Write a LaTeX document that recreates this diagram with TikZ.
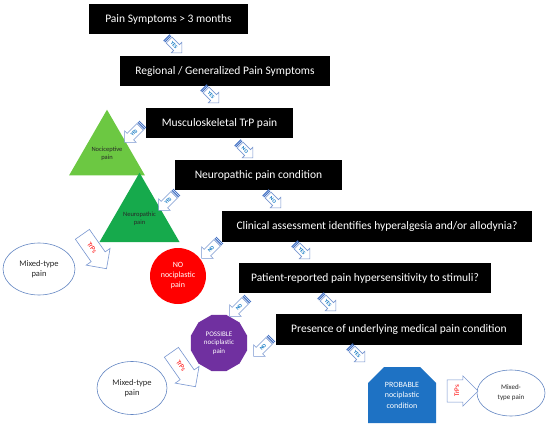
\documentclass[tikz,border=0pt]{standalone}
\usepackage{fontspec}
\setmainfont{Carlito}
\usetikzlibrary{shapes.geometric,shapes.arrows,shapes.misc,calc}

\definecolor{lgreen}{RGB}{108,200,66}
\definecolor{dgreen}{RGB}{22,170,76}
\definecolor{npurple}{RGB}{112,48,160}
\definecolor{pblue}{RGB}{30,114,196}
\definecolor{arrline}{RGB}{120,150,208}
\definecolor{arrstripe}{RGB}{68,114,196}
\definecolor{arrtext}{RGB}{0,112,192}
\definecolor{ellline}{RGB}{100,135,195}
\definecolor{darktext}{RGB}{40,40,40}

\tikzset{
  question/.style={fill=black, text=white, minimum height=30pt, inner sep=0pt,
    font=\fontsize{11.5}{13}\selectfont},
  stripes/.style={
    append after command={
      ($(\tikzlastnode.before tail)!1.3pt!90:(\tikzlastnode.after tail)$) edge[draw=arrstripe, line width=1pt]
      ($(\tikzlastnode.after tail)!1.3pt!-90:(\tikzlastnode.before tail)$)
      ($(\tikzlastnode.before tail)!3pt!90:(\tikzlastnode.after tail)$) edge[draw=arrstripe, line width=1pt]
      ($(\tikzlastnode.after tail)!3pt!-90:(\tikzlastnode.before tail)$)
    }},
  answer/.style={single arrow, draw=arrline, fill=white, text=arrtext, line width=0.6pt,
    font=\fontsize{5}{5}\selectfont\bfseries, inner xsep=0.8pt, inner ysep=2.2pt,
    single arrow head extend=3.3pt, minimum height=18pt, stripes},
  answerright/.style={answer, rotate=-45},
  answerleft/.style={answer, shape border rotate=180, rotate=45, minimum height=22pt,
    inner ysep=2.6pt, single arrow head extend=3.6pt},
  trps/.style={single arrow, draw=arrline, fill=white, text=red, line width=0.6pt,
    font=\fontsize{7}{7}\selectfont, inner xsep=1pt, inner ysep=6pt,
    single arrow head extend=6pt, minimum height=42pt},
  tri/.style={regular polygon, regular polygon sides=3, inner sep=0pt, minimum size=74pt,
    text=darktext, align=center, font=\fontsize{6.5}{8}\selectfont},
  mixed/.style={ellipse, draw=ellline, line width=0.6pt, fill=white, inner sep=0pt,
    text=darktext, align=center, font=\fontsize{8.5}{10}\selectfont},
  result/.style={text=white, align=center, inner sep=0pt}
}

\begin{document}
\begin{tikzpicture}[x=1pt, y=-1pt]
    \useasboundingbox (0,0) rectangle (550,428);

    % Question boxes
    \node[question, minimum width=159pt] (q1) at (168.5,19) {Pain Symptoms > 3 months};
    \node[question, minimum width=210pt] (q2) at (225,71) {Regional / Generalized Pain Symptoms};
    \node[question, minimum width=147pt] (q3) at (219.5,123) {Musculoskeletal TrP pain};
    \node[question, minimum width=167pt] (q4) at (258.5,175) {Neuropathic pain condition};
    \node[question, minimum width=310pt, minimum height=31pt] (q5) at (377,226.5) {Clinical assessment identifies hyperalgesia and/or allodynia?};
    \node[question, minimum width=252pt] (q6) at (365,278) {Patient-reported pain hypersensitivity to stimuli?};
    \node[question, minimum width=246pt, minimum height=31pt] (q7) at (399,329.5) {Presence of underlying medical pain condition};

    % Outcomes
    \node[tri, fill=lgreen] (nocic) at (107,153.5) {Nociceptive\\pain};
    \node[tri, fill=dgreen, minimum size=75pt] (neuro) at (139.5,219) {Neuropathic\\pain};
    \node[result, circle, fill=red, minimum size=56pt, font=\fontsize{8}{10}\selectfont] (nonp) at (178,276) {NO\\nociplastic\\pain};
    \node[result, regular polygon, regular polygon sides=12, fill=npurple, minimum size=58pt,
      font=\fontsize{7}{8.5}\selectfont] (possible) at (219,343) {POSSIBLE\\nociplastic\\pain};
    \node[result, chamfered rectangle, chamfered rectangle corners={north west,north east},
      chamfered rectangle xsep=8pt, chamfered rectangle ysep=8pt, fill=pblue,
      minimum width=68pt, minimum height=56pt, font=\fontsize{8}{10.5}\selectfont] (probable) at (402,395) {PROBABLE\\nociplastic\\condition};

    % Mixed-type pain
    \node[mixed, minimum width=72pt, minimum height=52pt] (mix1) at (39,269) {Mixed-type\\pain};
    \node[mixed, minimum width=70pt, minimum height=53pt] (mix2) at (132,388) {Mixed-type\\pain};
    \node[mixed, minimum width=68pt, minimum height=46pt, font=\fontsize{7}{10}\selectfont] (mix3) at (511,393) {Mixed-\\type pain};

    % YES / NO arrows
    \node[answerright] (a1) at (174,45) {YES};
    \node[answerright] (a2) at (211,95) {YES};
    \node[answerleft] (a3) at (134,133) {YES};
    \node[answerright] (a4) at (245,150) {NO};
    \node[answerleft] (a5) at (168,201) {YES};
    \node[answerright] (a6) at (273,200) {NO};
    \node[answerleft] (a7) at (211,249) {NO};
    \node[answerright] (a8) at (302,251) {YES};
    \node[answerleft] (a9) at (239,307) {NO};
    \node[answerright] (a10) at (328,303) {YES};
    \node[answerleft] (a11) at (263,347) {NO};
    \node[answerright] (a12) at (357,354) {YES};

    % TrPs arrows
    \node[trps, rotate=-55] (t1) at (92,248) {TrPs};
    \node[trps, rotate=-55] (t2) at (181,366) {TrPs};
    \node[trps, minimum height=31pt, inner ysep=5pt, single arrow head extend=4pt] (t3) at (457,391) {\rotatebox{90}{TrPs}};
\end{tikzpicture}
\end{document}
